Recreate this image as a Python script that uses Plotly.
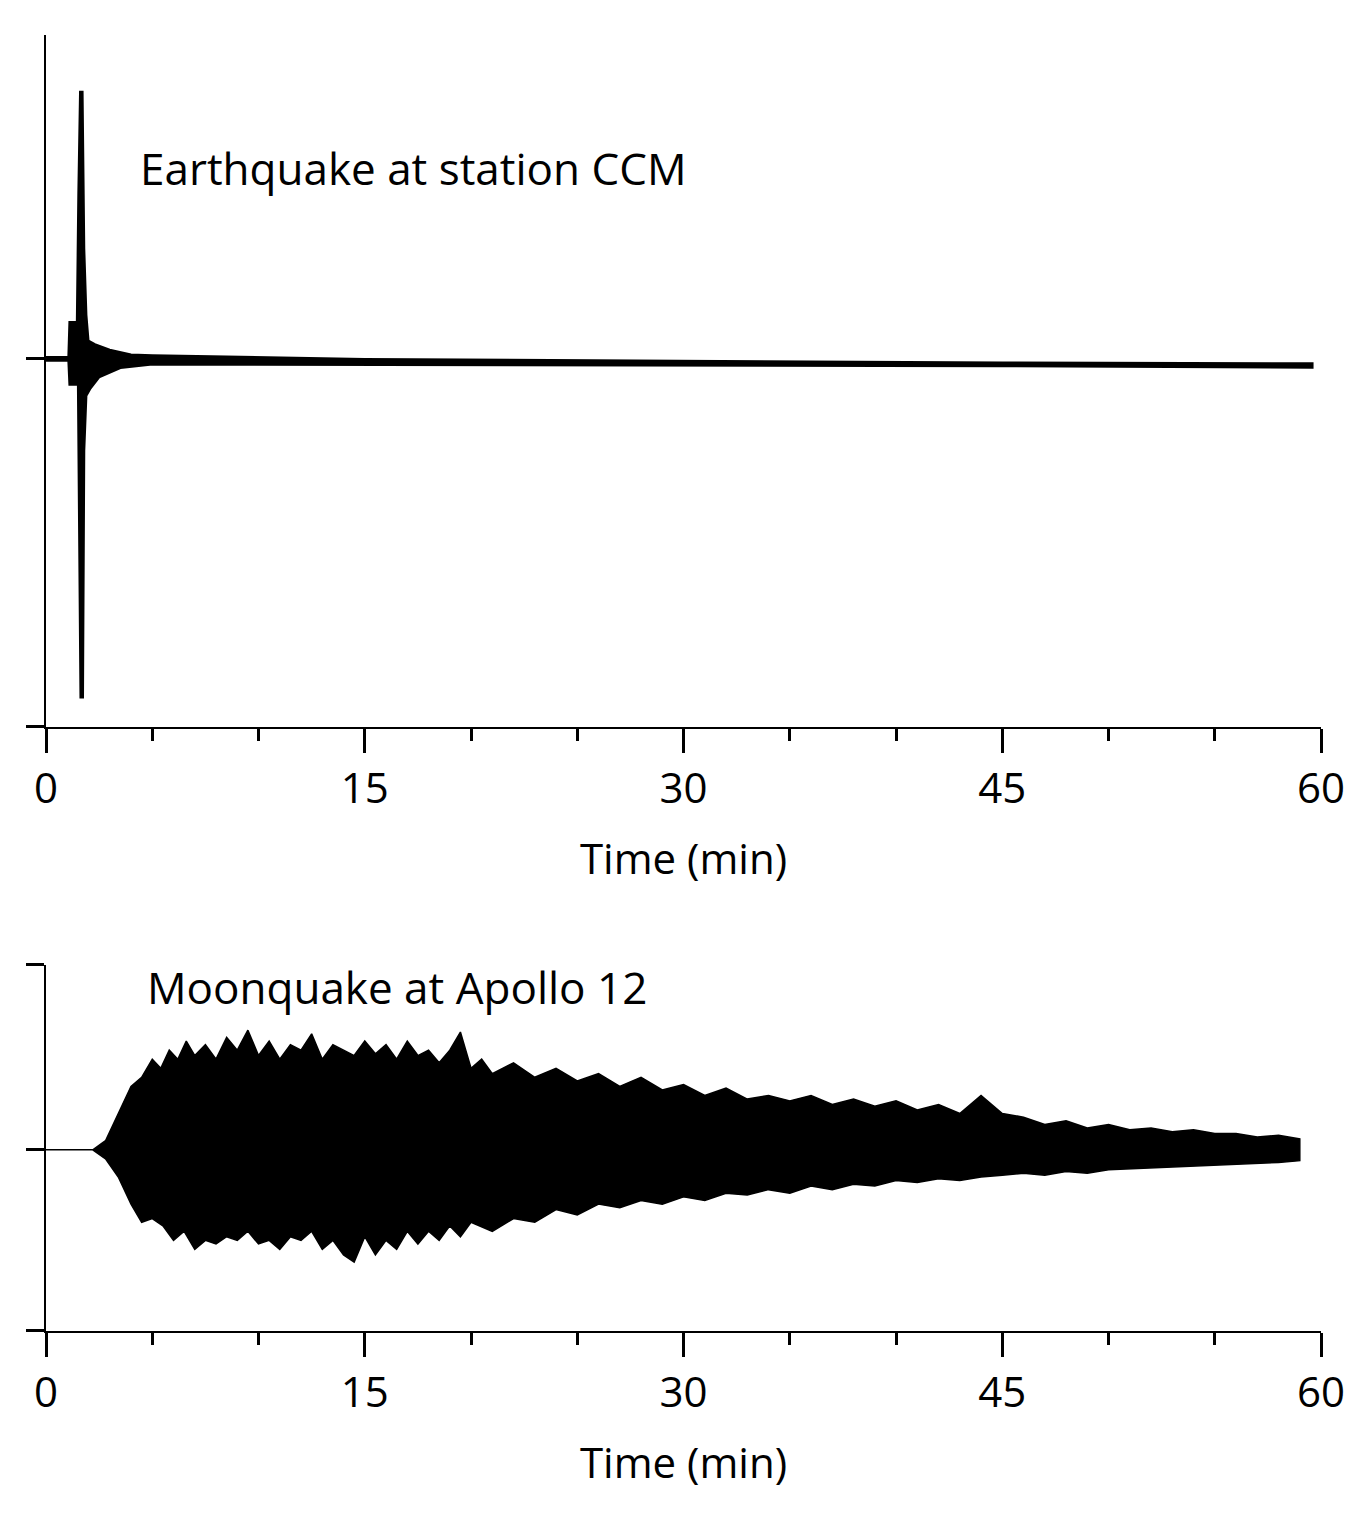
import plotly.graph_objects as go

# Earthquake envelope (time in min, relative amplitude)
eq_up_t = [0, 1.05, 1.1, 1.45, 1.52, 1.6, 1.72, 1.8, 1.9, 2.0, 2.3, 3.0, 4.0, 5.0, 15.0, 30.0, 45.0, 59.6]
eq_up_a = [0.005, 0.005, 0.1, 0.1, 0.45, 0.726, 0.726, 0.3, 0.12, 0.05, 0.04, 0.025, 0.012, 0.01, 0.0, -0.006, -0.01, -0.012]
eq_lo_t = [0, 1.05, 1.1, 1.5, 1.55, 1.62, 1.74, 1.8, 1.9, 2.1, 2.5, 3.5, 5.0, 15.0, 30.0, 45.0, 59.6]
eq_lo_a = [-0.005, -0.005, -0.07, -0.07, -0.5, -0.92, -0.92, -0.25, -0.1, -0.08, -0.05, -0.025, -0.015, -0.015, -0.018, -0.02, -0.024]

# Moonquake envelope
mq_up_t = [2.2, 2.8, 3.4, 4.0, 4.5, 5.0, 5.4, 5.8, 6.2, 6.6, 7.0, 7.5, 8.0, 8.5, 9.0, 9.5, 10.0,
           10.5, 11.0, 11.5, 12.0, 12.5, 13.0, 13.5, 14.0, 14.5, 15.0, 15.5, 16.0, 16.5, 17.0,
           17.5, 18.0, 18.5, 19.0, 19.5, 20.0, 20.5, 21, 22, 23, 24, 25, 26, 27, 28, 29, 30,
           31, 32, 33, 34, 35, 36, 37, 38, 39, 40, 41, 42, 43, 44, 45, 46, 47, 48, 49, 50,
           51, 52, 53, 54, 55, 56, 57, 58, 59]
mq_up_a = [0.0, 0.05, 0.2, 0.35, 0.4, 0.5, 0.45, 0.55, 0.5, 0.6, 0.52, 0.58, 0.5, 0.62, 0.55, 0.66, 0.52,
           0.6, 0.5, 0.58, 0.55, 0.64, 0.5, 0.58, 0.55, 0.52, 0.6, 0.53, 0.58, 0.5, 0.6,
           0.52, 0.55, 0.48, 0.55, 0.65, 0.45, 0.5, 0.42, 0.48, 0.4, 0.45, 0.38, 0.42, 0.35, 0.4, 0.33, 0.36,
           0.3, 0.34, 0.28, 0.3, 0.27, 0.3, 0.25, 0.28, 0.24, 0.27, 0.22, 0.25, 0.2, 0.3, 0.2, 0.18, 0.14, 0.16, 0.12, 0.14,
           0.11, 0.12, 0.1, 0.11, 0.09, 0.09, 0.07, 0.08, 0.06]
mq_lo_t = [2.2, 2.8, 3.4, 4.0, 4.5, 5.0, 5.5, 6, 6.5, 7, 7.5, 8, 8.5, 9, 9.5, 10, 10.5, 11, 11.5,
           12, 12.5, 13, 13.5, 14, 14.5, 15, 15.5, 16, 16.5, 17, 17.5, 18, 18.5, 19, 19.5, 20,
           21, 22, 23, 24, 25, 26, 27, 28, 29, 30, 31, 32, 33, 34, 35, 36, 37, 38, 39, 40,
           41, 42, 43, 44, 45, 46, 47, 48, 49, 50, 52, 54, 56, 58, 59]
mq_lo_a = [0, -0.05, -0.15, -0.3, -0.4, -0.38, -0.42, -0.5, -0.45, -0.55, -0.5, -0.52, -0.48, -0.5, -0.45, -0.52, -0.5, -0.55, -0.48,
           -0.5, -0.45, -0.55, -0.5, -0.58, -0.62, -0.48, -0.58, -0.5, -0.55, -0.45, -0.52, -0.45, -0.5, -0.42, -0.48, -0.4,
           -0.45, -0.38, -0.4, -0.33, -0.36, -0.3, -0.32, -0.28, -0.3, -0.26, -0.28, -0.24, -0.25, -0.22, -0.24, -0.2, -0.22, -0.19, -0.2, -0.17,
           -0.18, -0.16, -0.17, -0.15, -0.14, -0.13, -0.14, -0.12, -0.13, -0.11, -0.1, -0.09, -0.08, -0.07, -0.06]

x_ticks = [0, 15, 30, 45, 60]

fig = go.Figure()

fig.add_trace(go.Scatter(
    x=eq_up_t + eq_lo_t[::-1], y=eq_up_a + eq_lo_a[::-1],
    fill="toself", fillcolor="black", mode="lines",
    line=dict(color="black", width=2), xaxis="x", yaxis="y"))

fig.add_trace(go.Scatter(
    x=[0] + mq_up_t + mq_lo_t[::-1] + [0], y=[0] + mq_up_a + mq_lo_a[::-1] + [0],
    fill="toself", fillcolor="black", mode="lines",
    line=dict(color="black", width=1.5), xaxis="x2", yaxis="y2"))

font = dict(family="Open Sans", size=42, color="black")
xcommon = dict(range=[0, 60], tickvals=x_ticks, showline=True, linecolor="black", linewidth=2,
               ticks="outside", ticklen=24, tickwidth=3, tickcolor="black", automargin=False,
               minor=dict(tickvals=[5, 10, 20, 25, 35, 40, 50, 55], ticks="outside",
                          ticklen=12, tickwidth=3, tickcolor="black"),
               showgrid=False, zeroline=False, tickfont=font,
               title=dict(text="Time (min)", font=font, standoff=30))
ycommon = dict(showticklabels=False, showline=True, linecolor="black", linewidth=2, automargin=False,
               ticks="outside", ticklen=18, tickwidth=3, tickcolor="black",
               showgrid=False, zeroline=False)

fig.update_layout(
    width=1358, height=1528, margin=dict(l=0, r=0, t=0, b=0),
    plot_bgcolor="white", paper_bgcolor="white", showlegend=False,
    xaxis=dict(domain=[0.0280, 0.9669], anchor="y", **xcommon),
    xaxis2=dict(domain=[0.0280, 0.9669], anchor="y2", **xcommon),
    yaxis=dict(domain=[0.5295, 0.9823], range=[-1, 0.88], anchor="x", tickvals=[-1, 0], **ycommon),
    yaxis2=dict(domain=[0.1342, 0.3737], range=[-1, 1.02], anchor="x2", tickvals=[-1, 0, 1.02], **ycommon),
    annotations=[
        dict(text="Earthquake at station CCM", x=130 / 1358, y=1 - 160 / 1528, xref="paper", yref="paper",
             xanchor="left", yanchor="middle", showarrow=False, font=dict(family="Open Sans", size=44, color="black")),
        dict(text="Moonquake at Apollo 12", x=137 / 1358, y=1 - 979 / 1528, xref="paper", yref="paper",
             xanchor="left", yanchor="middle", showarrow=False, font=dict(family="Open Sans", size=44, color="black")),
    ],
)

fig.write_html("out.html")
